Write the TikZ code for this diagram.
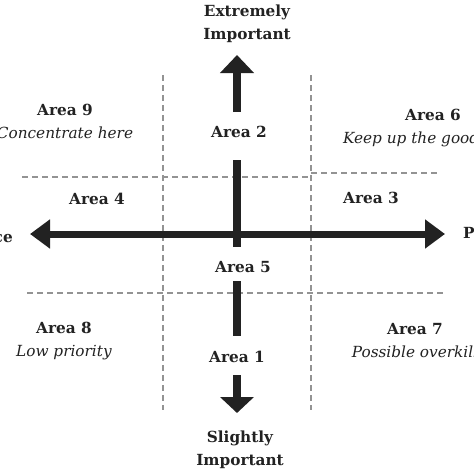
\documentclass[tikz,border=0pt]{standalone}
\usepackage{fontspec}
\setmainfont{DejaVu Serif}
\usetikzlibrary{arrows.meta, positioning}
\definecolor{ink}{HTML}{222222}
\tikzset{
  area/.style={font=\bfseries\fontsize{15.3}{23}\selectfont, text=ink, align=center, inner sep=1pt},
  grid/.style={draw=gray!85, line width=1.1pt, dash pattern=on 6pt off 4pt},
  axis/.style={draw=ink, line width=7pt},
}

\begin{document}
\begin{tikzpicture}[x=1pt, y=-1pt]
  \clip (0,0) rectangle (474,474);

  % Axes labels
  \node[area] (top) at (247,24) {Extremely\\Important};
  \node[area] (bottom) at (240,450) {Slightly\\Important};
  \node[area, anchor=east] (left) at (14,239) {ce};
  \node[area, anchor=west] (right) at (462,233) {P};

  % Grid
  \coordinate (g1t) at (163,75);  \coordinate (g1b) at (163,410);
  \coordinate (g2t) at (311,75);  \coordinate (g2b) at (311,410);
  \coordinate (h1l) at (22,177);  \coordinate (h1r) at (311,177);
  \coordinate (h2l) at (311,173); \coordinate (h2r) at (440,173);
  \coordinate (h3l) at (27,293);  \coordinate (h3r) at (446,293);
  \draw[grid] (g1t) -- (g1b);
  \draw[grid] (g2t) -- (g2b);
  \draw[grid] (h1l) -- (h1r);
  \draw[grid] (h2l) -- (h2r);
  \draw[grid] (h3l) -- (h3r);

  % Areas
  \node[area] (a9) at (65,121) {Area 9\\\textnormal{\itshape Concentrate here}};
  \node[area] (a2) at (239,132) {Area 2};
  \node[area] (a6) at (433,128) {Area 6\\\textnormal{\itshape Keep up the good work}};
  \node[area] (a4) at (97,199) {Area 4};
  \node[area] (a3) at (371,198) {Area 3};
  \node[area] (a5) at (243,267) {Area 5};
  \node[area] (a8) at (64,341) {Area 8\\\textnormal{\itshape Low priority}};
  \node[area] (a1) at (237,357) {Area 1};
  \node[area] (a7) at (415,341) {Area 7\\\textnormal{\itshape Possible overkill}};

  % Arrows
  \coordinate (up0) at (237,112);  \coordinate (up1) at (237,55);
  \coordinate (dn0) at (237,375);  \coordinate (dn1) at (237,413);
  \coordinate (ax0) at (30,234);   \coordinate (ax1) at (445,234);
  \coordinate (v0) at (237,160);   \coordinate (v1) at (237,247);
  \coordinate (v2) at (237,281);   \coordinate (v3) at (237,336);
  \draw[axis, line width=8pt, -{Triangle[width=33pt, length=18pt]}] (up0) -- (up1);
  \draw[axis, line width=8pt, -{Triangle[width=33pt, length=16pt]}] (dn0) -- (dn1);
  \draw[axis, {Triangle[width=28pt, length=20pt]}-{Triangle[width=28pt, length=20pt]}] (ax0) -- (ax1);
  \draw[axis, line width=8pt] (v0) -- (v1);
  \draw[axis, line width=8pt] (v2) -- (v3);
\end{tikzpicture}
\end{document}
